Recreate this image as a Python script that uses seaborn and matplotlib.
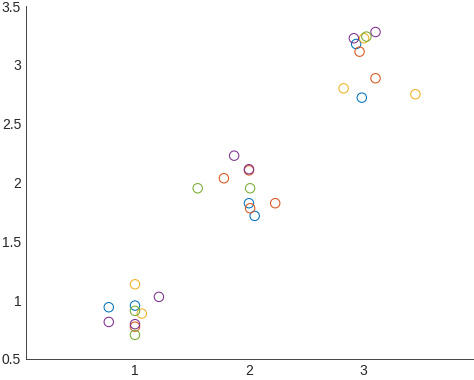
import numpy as np
import pandas as pd
import seaborn as sns
import matplotlib.pyplot as plt

# Values ######################################################################

x_vals = [1.00, 1.21, 0.77, 1.00, 1.00, 1.06, 0.77, 1.00, 1.00, 1.00,
          1.87, 2.00, 2.00, 1.78, 1.55, 2.01, 2.00, 2.01, 2.23, 2.05,
          2.92, 2.94, 3.01, 3.03, 3.11, 2.97, 3.11, 2.83, 2.99, 3.46]
y_vals = [1.135, 1.028, 0.940, 0.954, 0.909, 0.886, 0.815, 0.796, 0.775, 0.705,
          2.228, 2.113, 2.103, 2.036, 1.951, 1.951, 1.824, 1.781, 1.824, 1.716,
          3.226, 3.177, 3.226, 3.240, 3.279, 3.112, 2.886, 2.800, 2.721, 2.750]
groups = ["yellow", "purple", "blue", "blue", "green", "yellow", "purple", "purple", "orange", "green",
          "purple", "purple", "orange", "orange", "green", "green", "blue", "orange", "orange", "blue",
          "purple", "blue", "yellow", "green", "purple", "orange", "orange", "yellow", "blue", "yellow"]

palette = {"blue": "#0072BD", "orange": "#D95319", "yellow": "#EDB120",
           "purple": "#7E2F8E", "green": "#77AC30"}

df = pd.DataFrame({"x": x_vals, "y": y_vals, "g": groups})

sns.set_style("white")
plt.rcParams["font.family"] = ["Liberation Sans", "DejaVu Sans"]

fig = plt.figure(figsize=(4.74, 3.8), dpi=100)
ax = fig.add_axes([26 / 474, 21 / 380, 448 / 474, 353 / 380])

for g, col in palette.items():
    sub = df[df["g"] == g]
    ax.scatter(sub["x"], sub["y"], s=46, facecolors="none", edgecolors=col,
               linewidths=0.75)

ax.set_xlim(0.044, 3.974)
ax.set_ylim(0.5, 3.5)
ax.set_xticks([1, 2, 3])
ax.set_yticks([0.5, 1, 1.5, 2, 2.5, 3, 3.5])
ax.set_yticklabels(["0.5", "1", "1.5", "2", "2.5", "3", "3.5"])
ax.tick_params(direction="in", length=4, width=0.6, colors="#262626",
               labelsize=10, labelcolor="#262626")
ax.tick_params(axis="y", pad=3.5)
ax.tick_params(axis="x", pad=3.5)

for side in ["top", "right"]:
    ax.spines[side].set_visible(False)
for side in ["left", "bottom"]:
    ax.spines[side].set_color("#262626")
    ax.spines[side].set_linewidth(0.6)

ax.set_xlabel("")
ax.set_ylabel("")

plt.savefig("out.png", dpi=100)
